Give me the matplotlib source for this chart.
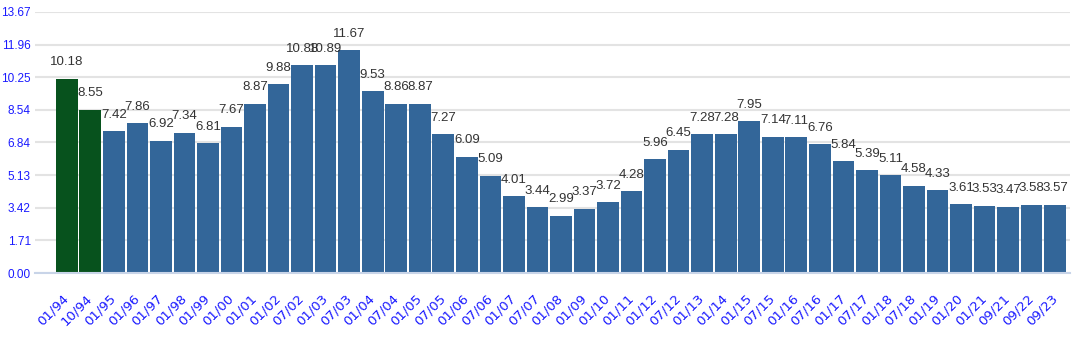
import matplotlib
matplotlib.use('Agg')
from matplotlib import pyplot as plt

labels = ['01/94', '10/94', '01/95', '01/96', '01/97', '01/98', '01/99', '01/00',
          '01/01', '01/02', '07/02', '01/03', '07/03', '01/04', '07/04', '01/05',
          '07/05', '01/06', '07/06', '01/07', '07/07', '01/08', '01/09', '01/10',
          '01/11', '01/12', '07/12', '01/13', '01/14', '01/15', '07/15', '01/16',
          '07/16', '01/17', '07/17', '01/18', '07/18', '01/19', '01/20', '01/21',
          '09/21', '09/22', '09/23']
values = [10.18, 8.55, 7.42, 7.86, 6.92, 7.34, 6.81, 7.67, 8.87, 9.88, 10.88,
          10.89, 11.67, 9.53, 8.86, 8.87, 7.27, 6.09, 5.09, 4.01, 3.44, 2.99,
          3.37, 3.72, 4.28, 5.96, 6.45, 7.28, 7.28, 7.95, 7.14, 7.11, 6.76, 5.84,
          5.39, 5.11, 4.58, 4.33, 3.61, 3.53, 3.47, 3.58, 3.57]
yticks = [0.00, 1.71, 3.42, 5.13, 6.84, 8.54, 10.25, 11.96, 13.67]
n_green = 2

fig = plt.figure(figsize=(10.76, 3.54), dpi=100)
ax = fig.add_axes([35 / 1076, 1 - 273 / 354, 1035 / 1076, 261 / 354])

colors = ['#07521d'] * n_green + ['#336699'] * (len(values) - n_green)
x = list(range(len(values)))
ax.bar(x, values, width=0.92, color=colors, zorder=2)

for xi, v in zip(x, values):
    ax.annotate('%.2f' % v, (xi, v), xytext=(0, 7.5), textcoords='offset points',
                ha='center', va='bottom', fontsize=9.5, color='#333333',
                family='Liberation Sans')

ax.set_xlim(-1.35, len(values) - 0.37)
ax.set_ylim(0, 13.67)
ax.set_yticks(yticks)
ax.set_yticklabels(['%.2f' % t for t in yticks], color='#1a1aff', fontsize=8.5,
                   family='Liberation Sans')
ax.set_xticks(x)
ax.set_xticklabels(labels, rotation=45, ha='right', va='center', rotation_mode='anchor',
                   color='#1a1aff', fontsize=9.5)
ax.tick_params(axis='both', length=0)
ax.tick_params(axis='x', pad=17)
ax.tick_params(axis='y', pad=3)

ax.yaxis.grid(True, color='#e3e3e3', linewidth=1.5, zorder=0)
ax.set_axisbelow(True)
for side in ['top', 'right', 'left']:
    ax.spines[side].set_visible(False)
ax.spines['bottom'].set_color('#c8d4e8')
ax.spines['bottom'].set_linewidth(1.5)

plt.savefig('out.png', dpi=100)
